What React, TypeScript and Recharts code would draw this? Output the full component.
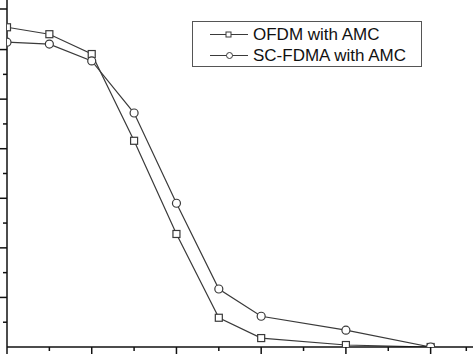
import { LineChart, Line, XAxis, YAxis, Legend } from 'recharts'

const X_VALUES = [0, 1, 2, 3, 4, 5, 6, 8, 10]
const OFDM = [64.5, 63.1, 59.1, 41.6, 22.8, 5.9, 1.8, 0.4, 0]
const SCFDMA = [61.5, 61.1, 57.7, 47.2, 29.0, 11.7, 6.2, 3.4, 0]

const X_TICKS = [0, 1, 2, 3, 4, 5, 6, 7, 8, 9, 10, 11]
const Y_TICKS = [0, 5, 10, 15, 20, 25, 30, 35, 40, 45, 50, 55, 60, 65, 70]

const INK = '#3a3a3a'
const AXIS = '#111'

const data = X_VALUES.map((x, i) => ({ x, ofdm: OFDM[i], scfdma: SCFDMA[i] }))

function XTick(props: any) {
  const { x, y, payload } = props
  const major = payload.value % 2 === 0
  return <line x1={x} x2={x} y1={y} y2={y + (major ? 7 : 4)} stroke={AXIS} strokeWidth={1.5} />
}

function YTick(props: any) {
  const { x, y, payload } = props
  const major = payload.value % 10 === 0
  return <line x1={x - (major ? 7 : 4)} x2={x} y1={y} y2={y} stroke={AXIS} strokeWidth={1.5} />
}

function SquareDot(props: any) {
  const { cx, cy, index } = props
  return (
    <rect key={`sq-${index}`} x={cx - 3.5} y={cy - 3.5} width={7} height={7}
      fill="#fff" stroke={INK} strokeWidth={1.2} />
  )
}

function LegendBox() {
  const rows = [
    { label: 'OFDM with AMC', shape: 'square' },
    { label: 'SC-FDMA with AMC', shape: 'circle' },
  ]
  return (
    <div style={{
      width: 230, height: 46, boxSizing: 'border-box', border: '1px solid #555',
      background: '#fff', fontFamily: '"Liberation Sans", Arial, sans-serif', fontSize: 17,
      color: '#111', paddingTop: 2,
    }}>
      {rows.map(r => (
        <div key={r.label} style={{ display: 'flex', alignItems: 'center', height: 21 }}>
          <svg width={60} height={21} style={{ flexShrink: 0 }}>
            <line x1={17} x2={55} y1={10.5} y2={10.5} stroke={INK} strokeWidth={1} />
            {r.shape === 'square'
              ? <rect x={33} y={8} width={5} height={5} fill="#fff" stroke={INK} strokeWidth={1} />
              : <circle cx={36.5} cy={10.5} r={3} fill="#fff" stroke={INK} strokeWidth={1} />}
          </svg>
          <span>{r.label}</span>
        </div>
      ))}
    </div>
  )
}

export default function App() {
  return (
    <div style={{ position: 'absolute', left: 0, top: 0, width: 474, height: 354, background: '#fff' }}>
      <LineChart width={474} height={354} data={data} margin={{ top: 0, right: 1, bottom: 0, left: 0 }}>
        <XAxis
          dataKey="x"
          type="number"
          domain={[0, 11]}
          ticks={X_TICKS}
          allowDataOverflow
          height={7}
          tickSize={0}
          tickMargin={0}
          tickLine={false}
          tick={(p: any) => <XTick {...p} />}
          axisLine={{ stroke: AXIS, strokeWidth: 1.5 }}
        />
        <YAxis
          type="number"
          domain={[0, 70]}
          ticks={Y_TICKS}
          allowDataOverflow
          width={7}
          tickSize={0}
          tickMargin={0}
          tickLine={false}
          tick={(p: any) => <YTick {...p} />}
          axisLine={{ stroke: AXIS, strokeWidth: 1.5 }}
        />
        <Legend
          layout="horizontal"
          verticalAlign="middle"
          align="center"
          wrapperStyle={{ left: 192, top: 21, width: 230, height: 46 }}
          content={() => <LegendBox />}
        />
        <Line
          type="linear"
          dataKey="ofdm"
          name="OFDM with AMC"
          stroke={INK}
          strokeWidth={1.2}
          dot={(p: any) => <SquareDot {...p} />}
          isAnimationActive={false}
        />
        <Line
          type="linear"
          dataKey="scfdma"
          name="SC-FDMA with AMC"
          stroke={INK}
          strokeWidth={1.2}
          dot={{ r: 4, fill: '#fff', stroke: INK, strokeWidth: 1.2 }}
          isAnimationActive={false}
        />
      </LineChart>
    </div>
  )
}
